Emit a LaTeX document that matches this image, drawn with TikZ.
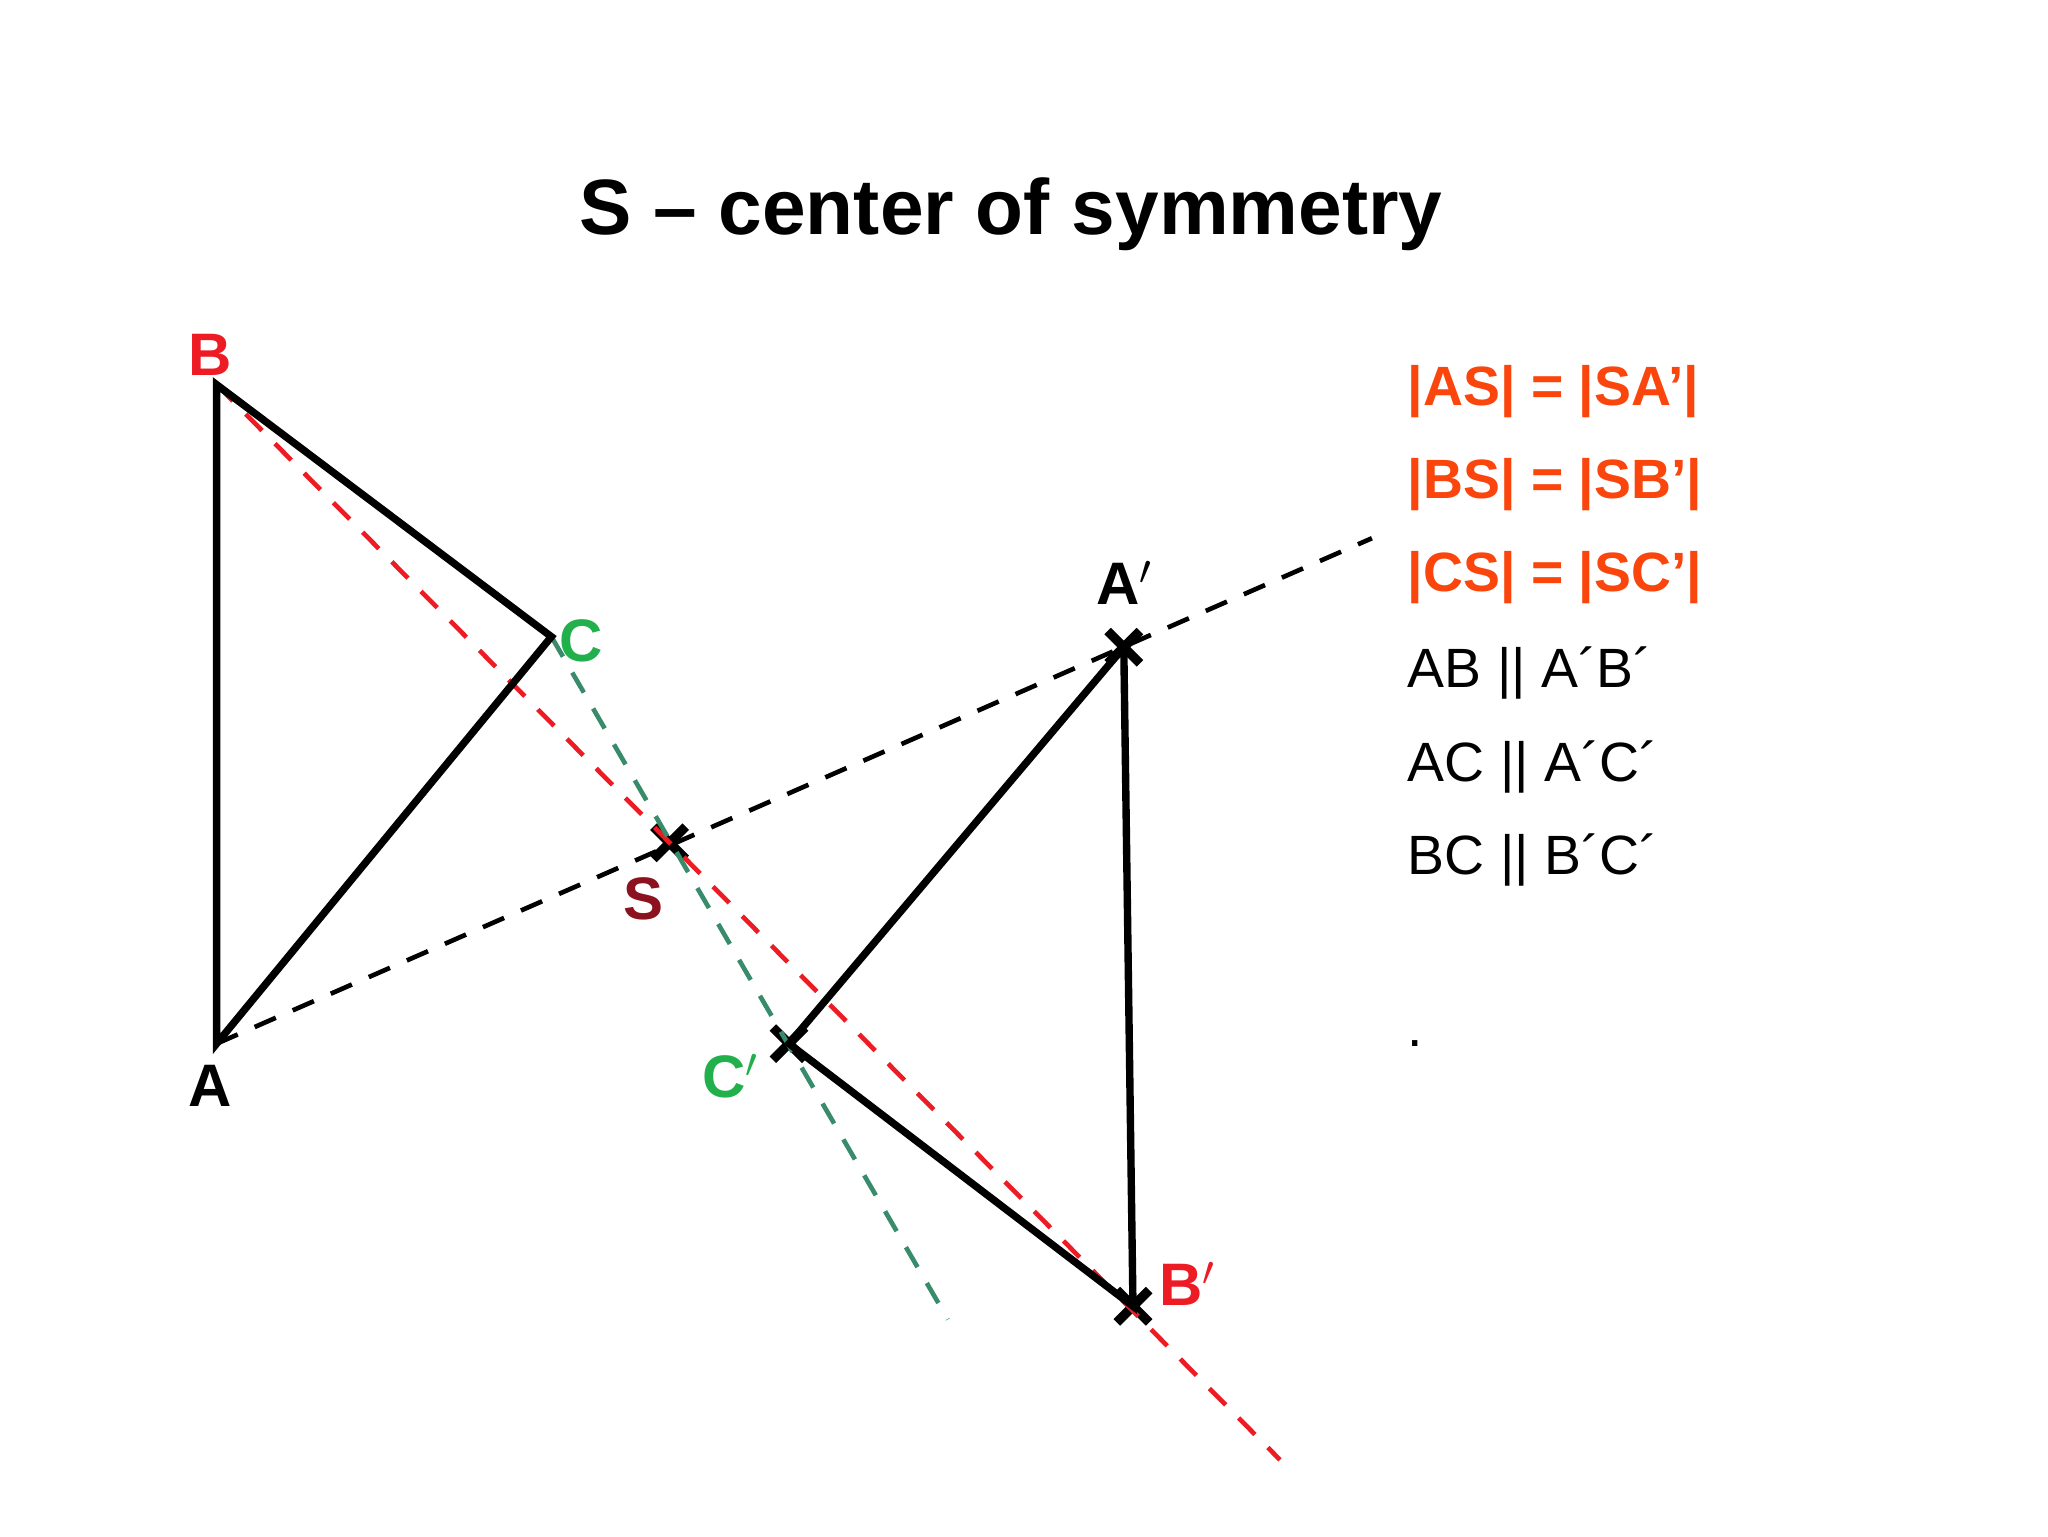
\documentclass[tikz,border=0pt]{standalone}
\usepackage{fontspec}
\setmainfont{Liberation Sans}
\usetikzlibrary{shapes.misc, positioning}
\definecolor{symred}{rgb}{0.93, 0.11, 0.14}
\definecolor{symgreen}{rgb}{0.13, 0.69, 0.30}
\definecolor{symteal}{rgb}{0.22, 0.55, 0.42}
\definecolor{symorange}{rgb}{0.98, 0.27, 0.05}
\definecolor{symbrown}{rgb}{0.55, 0.07, 0.12}
\tikzset{
    xmark/.style={draw, cross out, line width=2pt, minimum size=5pt, inner sep=0pt},
    side/.style={line width=1.6pt},
    guide/.style={line width=1pt, dash pattern=on 5pt off 4pt},
    lbl/.style={font=\bfseries\fontsize{13}{15}\selectfont},
    eq/.style={font=\fontsize{12}{14}\selectfont, anchor=west},
    eqb/.style={font=\bfseries\fontsize{12}{14}\selectfont, text=symorange, anchor=west}
}
\begin{document}
\begin{tikzpicture}
        \useasboundingbox[fill=white] (0,0) rectangle (15.6,11.7);

        % points
        \coordinate (A) at (1.65,3.75);
        \coordinate (B) at (1.65,8.77);
        \coordinate (C) at (4.20,6.85);
        \node[xmark] (S) at (5.10,5.28) {};
        \node[xmark] (A1) at (8.56,6.77) {};
        \node[xmark] (B1) at (8.63,1.75) {};
        \node[xmark] (C1) at (6.01,3.75) {};
        \coordinate (Aend) at (10.45,7.60);
        \coordinate (Bend) at (9.75,0.58);
        \coordinate (Cend) at (7.22,1.65);

        % dashed lines through S
        \draw [guide] (A) -- (Aend);
        \draw [guide, symred] (B) -- (Bend);
        \draw [guide, symteal] (C) -- (Cend);

        % triangles
        \draw [side] (A) -- (B) -- (C) -- cycle;
        \draw [side] (A1.center) -- (B1.center) -- (C1.center) -- cycle;

        % labels
        \node[lbl, text=symred] (lB) at (1.60,9.00) {B};
        \node[lbl, text=symgreen] (lC) at (4.43,6.82) {C};
        \node[lbl] (lA) at (1.60,3.43) {A};
        \node[lbl, text=symbrown] (lS) at (4.90,4.85) {S};
        \node[lbl] (lA1) at (8.57,7.26) {A$^{\prime}$};
        \node[lbl, text=symred] (lB1) at (9.05,1.92) {B$^{\prime}$};
        \node[lbl, text=symgreen] (lC1) at (5.57,3.50) {C$^{\prime}$};

        % title
        \node[font=\bfseries\fontsize{17}{20}\selectfont] (title) at (7.70,10.07) {S – center of symmetry};

        % relations
        \node[eqb] (r1) at (10.60,8.72) {|AS| = |SA'|};
        \node[eqb] (r2) at (10.60,8.01) {|BS| = |SB'|};
        \node[eqb] (r3) at (10.60,7.30) {|CS| = |SC'|};
        \node[eq] (r4) at (10.60,6.57) {AB || A´B´};
        \node[eq] (r5) at (10.60,5.86) {AC || A´C´};
        \node[eq] (r6) at (10.60,5.15) {BC || B´C´};
        \node[eq] (dot) at (10.60,3.75) {.};
    \end{tikzpicture}
\end{document}
